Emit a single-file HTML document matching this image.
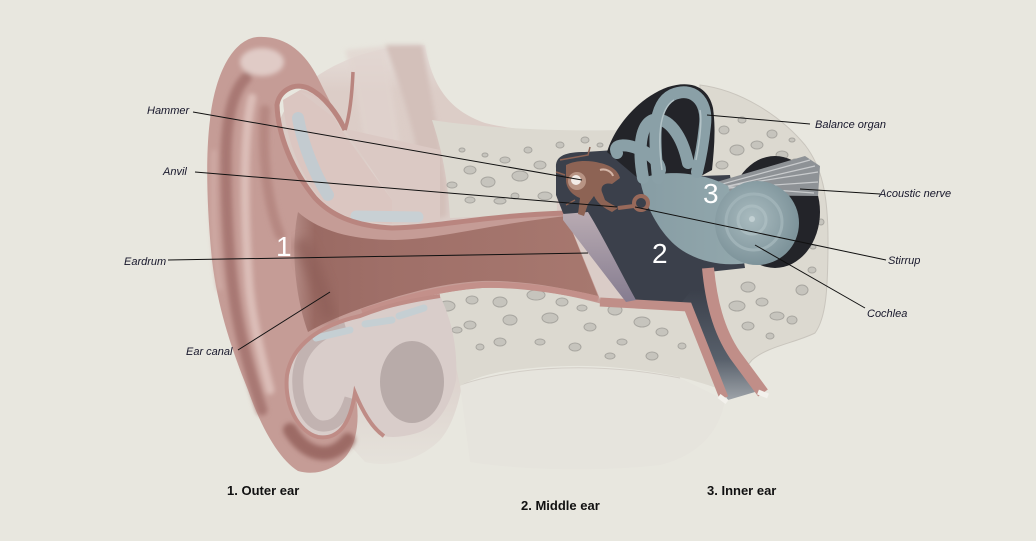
<!DOCTYPE html>
<html><head><meta charset="utf-8"><style>
html,body{margin:0;padding:0;background:#e8e7df;}
svg{display:block;}
text{font-family:"Liberation Sans",Arial,sans-serif;}
.lb{font-size:11px;font-style:italic;fill:#17172b;}
.bt{font-size:13px;font-weight:bold;fill:#111;}
.num{font-size:28px;fill:#fff;}
</style></head><body>
<svg width="1036" height="541" viewBox="0 0 1036 541" xmlns="http://www.w3.org/2000/svg">
<defs>
<filter id="b2" x="-20%" y="-20%" width="140%" height="140%"><feGaussianBlur stdDeviation="2.5"/></filter>
<filter id="b5" x="-30%" y="-30%" width="160%" height="160%"><feGaussianBlur stdDeviation="5"/></filter>
<linearGradient id="hg" gradientUnits="userSpaceOnUse" x1="0" y1="40" x2="0" y2="470">
<stop offset="0" stop-color="#e8e2de"/><stop offset="0.12" stop-color="#dccdc7"/><stop offset="0.7" stop-color="#d9ccc7"/><stop offset="1" stop-color="#e6e3dc"/></linearGradient>
<linearGradient id="cg" gradientUnits="userSpaceOnUse" x1="290" y1="0" x2="600" y2="0">
<stop offset="0" stop-color="#b7908a"/><stop offset="0.08" stop-color="#9a6a63"/><stop offset="0.3" stop-color="#9f6f68"/><stop offset="1" stop-color="#a7786f"/></linearGradient>
<linearGradient id="eg" gradientUnits="userSpaceOnUse" x1="0" y1="212" x2="0" y2="302">
<stop offset="0" stop-color="#b9abb2"/><stop offset="1" stop-color="#857c90"/></linearGradient>
<linearGradient id="tg" gradientUnits="userSpaceOnUse" x1="0" y1="290" x2="0" y2="405">
<stop offset="0" stop-color="#3b404b"/><stop offset="0.6" stop-color="#58606b"/><stop offset="1" stop-color="#a6abb0"/></linearGradient>
<radialGradient id="cog" cx="752" cy="218" r="46" gradientUnits="userSpaceOnUse">
<stop offset="0" stop-color="#a9bbbf"/><stop offset="1" stop-color="#7e949b"/></radialGradient>
<linearGradient id="vg" gradientUnits="userSpaceOnUse" x1="640" y1="0" x2="760" y2="0">
<stop offset="0" stop-color="#879da4"/><stop offset="1" stop-color="#94a9ae"/></linearGradient>
</defs>
<rect width="1036" height="541" fill="#e8e7df"/>

<!-- head tissue -->
<path d="M 280,120 C 300,70 370,44 425,45 C 432,85 448,110 485,123 C 530,134 590,134 625,132 L 625,300 L 470,300 C 468,360 462,415 440,440 C 420,460 390,468 365,462 L 300,390 L 280,300 Z" fill="url(#hg)"/>
<path d="M 345,50 L 385,46 C 395,110 405,170 410,222 L 370,226 C 368,160 360,100 345,50 Z" fill="#e1d4cf" opacity="0.7" filter="url(#b2)"/>
<path d="M 385,45 L 423,45 C 430,90 440,140 447,190 L 447,216 L 428,222 C 424,170 410,110 385,45 Z" fill="#d3c0ba" filter="url(#b2)"/>
<!-- lower faint region -->
<path d="M 460,385 C 520,365 600,362 680,378 L 725,400 C 720,430 700,455 660,465 C 600,472 520,470 470,462 Z" fill="#e6e4dd"/>
<path d="M 460,385 C 520,365 600,362 680,378" fill="none" stroke="#d3cec7" stroke-width="1"/>

<!-- bone B1 -->
<path d="M 432,120 C 470,126 540,132 625,130 C 632,118 645,100 660,92 L 665,150 L 556,165 L 557,213 L 450,218 C 448,180 442,150 432,120 Z" fill="#dcd9d0"/>
<!-- bone B2 -->
<path d="M 433,294 C 480,283 540,286 600,300 L 690,306 L 722,390 C 690,378 660,372 620,368 C 580,364 540,366 500,372 C 480,376 466,382 460,386 C 455,360 447,325 433,294 Z" fill="#dcd9d0"/>
<!-- bone B3 -->
<path d="M 700,85 C 740,90 780,115 805,145 C 822,167 828,195 828,240 C 828,290 826,318 815,333 C 795,343 768,346 752,360 L 742,372 C 730,355 720,320 712,280 L 700,150 Z" fill="#dcd9d0" stroke="#c9c5bd" stroke-width="1"/>

<!-- bone holes -->
<g fill="#c6c4bd" stroke="#a8a6a0" stroke-width="1">
<ellipse cx="452" cy="185" rx="5" ry="3"/><ellipse cx="470" cy="170" rx="6" ry="4"/><ellipse cx="488" cy="182" rx="7" ry="5"/><ellipse cx="505" cy="160" rx="5" ry="3"/><ellipse cx="520" cy="176" rx="8" ry="5"/><ellipse cx="540" cy="165" rx="6" ry="4"/><ellipse cx="545" cy="196" rx="7" ry="4"/><ellipse cx="500" cy="201" rx="6" ry="3"/><ellipse cx="470" cy="200" rx="5" ry="3"/><ellipse cx="528" cy="150" rx="4" ry="3"/><ellipse cx="462" cy="150" rx="3" ry="2"/><ellipse cx="515" cy="196" rx="4" ry="3"/><ellipse cx="560" cy="145" rx="4" ry="3"/><ellipse cx="485" cy="155" rx="3" ry="2"/><ellipse cx="585" cy="140" rx="4" ry="3"/><ellipse cx="600" cy="145" rx="3" ry="2"/>
<ellipse cx="447" cy="306" rx="8" ry="5"/><ellipse cx="472" cy="300" rx="6" ry="4"/><ellipse cx="500" cy="302" rx="7" ry="5"/><ellipse cx="536" cy="295" rx="9" ry="5"/><ellipse cx="562" cy="302" rx="6" ry="4"/><ellipse cx="582" cy="308" rx="5" ry="3"/><ellipse cx="615" cy="310" rx="7" ry="5"/><ellipse cx="642" cy="322" rx="8" ry="5"/><ellipse cx="470" cy="325" rx="6" ry="4"/><ellipse cx="510" cy="320" rx="7" ry="5"/><ellipse cx="550" cy="318" rx="8" ry="5"/><ellipse cx="590" cy="327" rx="6" ry="4"/><ellipse cx="622" cy="342" rx="5" ry="3"/><ellipse cx="662" cy="332" rx="6" ry="4"/><ellipse cx="500" cy="342" rx="6" ry="4"/><ellipse cx="540" cy="342" rx="5" ry="3"/><ellipse cx="575" cy="347" rx="6" ry="4"/><ellipse cx="610" cy="356" rx="5" ry="3"/><ellipse cx="652" cy="356" rx="6" ry="4"/><ellipse cx="480" cy="347" rx="4" ry="3"/><ellipse cx="457" cy="330" rx="5" ry="3"/><ellipse cx="682" cy="346" rx="4" ry="3"/>
<ellipse cx="724" cy="130" rx="5" ry="4"/><ellipse cx="742" cy="120" rx="4" ry="3"/><ellipse cx="737" cy="150" rx="7" ry="5"/><ellipse cx="757" cy="145" rx="6" ry="4"/><ellipse cx="772" cy="134" rx="5" ry="4"/><ellipse cx="782" cy="155" rx="6" ry="4"/><ellipse cx="795" cy="162" rx="4" ry="3"/><ellipse cx="722" cy="165" rx="6" ry="4"/><ellipse cx="748" cy="287" rx="7" ry="5"/><ellipse cx="737" cy="306" rx="8" ry="5"/><ellipse cx="762" cy="302" rx="6" ry="4"/><ellipse cx="777" cy="316" rx="7" ry="4"/><ellipse cx="748" cy="326" rx="6" ry="4"/><ellipse cx="802" cy="290" rx="6" ry="5"/><ellipse cx="792" cy="320" rx="5" ry="4"/><ellipse cx="770" cy="336" rx="4" ry="3"/><ellipse cx="812" cy="270" rx="4" ry="3"/><ellipse cx="821" cy="222" rx="3" ry="3"/><ellipse cx="813" cy="247" rx="3" ry="2"/><ellipse cx="792" cy="140" rx="3" ry="2"/>
</g>

<!-- lower concha region R -->
<path d="M 360,316 C 400,303 425,298 440,296 C 452,320 458,350 456,380 C 452,400 440,425 420,432 C 405,437 392,438 384,436 C 372,425 362,410 355,393 C 350,425 338,440 318,437 C 298,432 284,405 287,375 C 292,345 320,325 360,316 Z" fill="#d9cdca"/>
<path d="M 345,325 C 318,333 300,350 298,375 C 296,400 307,425 322,426 C 336,427 345,415 350,398" fill="none" stroke="#c2b3b1" stroke-width="11"/>
<ellipse cx="412" cy="382" rx="32" ry="41" fill="#b8aba9"/>

<!-- pinna -->
<path d="M 257,37 C 285,35 305,52 318,78 C 328,98 338,118 345,130 C 338,115 325,96 308,88 C 292,82 279,92 277,105 C 278,135 292,170 315,198 C 330,214 352,226 392,228 C 440,227 480,216 565,213 L 602,304 C 565,294 520,286 482,288 C 440,291 400,302 360,316 C 320,325 292,345 287,375 C 284,405 298,432 318,437 C 338,440 350,425 355,393 C 360,415 358,440 347,455 C 335,470 315,476 298,471 C 280,460 262,430 248,390 C 232,350 218,310 212,260 C 206,200 206,150 210,120 C 215,75 232,40 257,37 Z" fill="#c59c96"/>
<!-- pinna shading -->
<g filter="url(#b2)">
<ellipse cx="262" cy="62" rx="22" ry="14" fill="#e0cbc6"/>
<path d="M 246,78 C 232,92 226,120 226,160 C 226,215 229,265 236,310 C 242,345 252,380 262,410" fill="none" stroke="#a87873" stroke-width="11" stroke-linecap="round"/>
<path d="M 252,98 C 244,130 243,200 249,285 C 252,320 262,360 270,390" fill="none" stroke="#dbbdb7" stroke-width="9" stroke-linecap="round"/>
<path d="M 265,110 C 262,150 266,200 280,235" fill="none" stroke="#b68882" stroke-width="10" stroke-linecap="round"/>
<path d="M 290,430 C 305,455 330,462 348,440" fill="none" stroke="#9c6b65" stroke-width="14" stroke-linecap="round"/>
<path d="M 214,150 C 212,200 214,250 220,290" fill="none" stroke="#cfaaa4" stroke-width="5"/>
</g>
<!-- concha light inside arch -->
<path d="M 283,100 C 285,135 298,170 318,196 C 332,212 352,222 392,224 L 392,200 L 340,128 C 330,108 318,92 300,90 Z" fill="#dbc6c1"/>
<path d="M 300,92 C 322,96 335,115 345,130 L 392,200 L 392,224 L 440,222 L 440,150 L 350,130 Z" fill="#dbc9c4"/>

<!-- canal -->
<path d="M 298,212 C 318,230 350,240 395,240 C 440,239 480,226 566,216 L 598,296 C 560,287 520,280 482,281 C 440,283 400,295 368,306 C 345,314 325,322 308,332 C 296,300 290,250 298,212 Z" fill="url(#cg)"/>
<path d="M 300,240 C 315,270 325,300 330,320" fill="none" stroke="#8e5e58" stroke-width="16" filter="url(#b5)" opacity="0.7"/>

<!-- cartilage strips -->
<g stroke-linecap="round" fill="none">
<path d="M 298,118 C 303,145 315,175 328,195" stroke="#c3cbd0" stroke-width="12"/>
<path d="M 356,216 L 418,217" stroke="#c8d0d4" stroke-width="11"/>
<path d="M 316,338 L 350,330" stroke="#c5cfd3" stroke-width="7"/>
<path d="M 365,324 L 392,320" stroke="#c5cfd3" stroke-width="7"/>
<path d="M 399,316 L 424,308" stroke="#c5cfd3" stroke-width="7"/>
</g>
<!-- C lines -->
<g fill="none" stroke="#b9857f">
<path d="M 345,130 C 338,115 325,96 308,88 C 292,82 279,92 277,105 C 278,135 292,170 315,198 C 330,214 352,226 392,228 C 440,227 480,216 565,213" stroke-width="5"/>
<path d="M 345,130 C 350,115 352,95 353,72" stroke-width="3.5"/>
<path d="M 598,299 C 565,291 520,284 482,285 C 440,288 400,299 362,312" stroke="#c3908a" stroke-width="6"/>
<path d="M 440,296 C 400,302 380,308 360,316 C 320,325 292,345 287,375 C 284,405 298,432 318,437 C 338,440 350,425 355,393 C 362,410 372,428 384,436" stroke="#bf8c86" stroke-width="4"/>
</g>

<!-- middle ear cavity -->
<path d="M 556,168 C 555,156 565,152 585,152 L 615,150 L 640,178 L 730,175 L 745,268 L 708,272 C 698,285 692,295 690,305 L 630,300 L 563,213 L 556,195 Z" fill="#3b404b"/>
<!-- labyrinth black -->
<path d="M 607,152 C 615,125 640,97 668,87 C 690,80 708,86 713,108 C 716,130 714,150 712,170 L 690,182 L 640,180 Z" fill="#232429"/>
<ellipse cx="775" cy="212" rx="45" ry="56" fill="#232429"/>
<!-- eustachian tube -->
<path d="M 682,302 L 706,272 L 716,330 L 755,392 L 728,400 L 714,378 Z" fill="url(#tg)"/>
<path d="M 600,302 L 688,307 L 724,398" fill="none" stroke="#c08e88" stroke-width="9"/>
<path d="M 708,268 C 711,300 718,330 735,355 L 763,393" fill="none" stroke="#c08e88" stroke-width="12"/>
<path d="M 719,396 L 727,402 M 758,392 L 768,396" stroke="#f3f1ec" stroke-width="5"/>

<!-- eardrum -->
<path d="M 563,214 L 588,212 C 605,240 622,275 636,300 L 626,302 C 605,275 582,245 563,220 Z" fill="url(#eg)"/>

<!-- acoustic nerve -->
<path d="M 672,195 L 805,156 L 820,166 L 818,196 L 700,195 Z" fill="#8e9296"/>
<g stroke="#c9cbcd" stroke-width="1.2" fill="none">
<path d="M 675,197 L 810,160"/><path d="M 690,192 L 818,172"/><path d="M 700,190 L 818,182"/><path d="M 720,186 L 814,193"/><path d="M 685,196 L 815,166"/>
</g>

<!-- vestibule & cochlea -->
<path d="M 640,180 C 655,170 700,170 728,186 L 752,262 C 725,268 695,262 675,245 C 658,230 645,205 640,180 Z" fill="url(#vg)"/>
<circle cx="757" cy="223" r="42" fill="url(#cog)"/>
<circle cx="754" cy="222" r="28" fill="none" stroke="#9fb2b7" stroke-width="3"/>
<circle cx="752" cy="220" r="14" fill="none" stroke="#a9bbbf" stroke-width="3"/>
<circle cx="752" cy="219" r="3" fill="#c2d0d3"/>
<!-- semicircular canals -->
<g fill="none" stroke="#8aa0a7" stroke-width="12" stroke-linecap="round">
<path d="M 617,153 C 612,143 628,143 645,152 C 655,158 660,165 660,170"/>
<path d="M 643,178 C 638,150 640,125 653,120 C 668,116 682,135 688,163"/>
<path d="M 658,178 C 654,140 652,105 672,95 C 692,86 708,100 705,125 C 703,145 700,160 697,172"/>
</g>
<g fill="none" stroke="#b3c3c7" stroke-width="1.5">
<path d="M 662,170 C 658,140 658,110 674,100"/>
<path d="M 700,110 C 702,120 700,140 696,160"/>
</g>

<!-- ossicles -->
<g fill="none" stroke="#8d6354" stroke-width="1.5">
<path d="M 560,160 L 588,155 L 590,147"/><path d="M 565,175 L 556,172"/><path d="M 575,200 L 566,205"/>
</g>
<path d="M 566,165 C 575,160 590,160 600,163 C 610,165 618,170 620,178 L 612,184 C 605,182 600,186 602,192 L 605,200 C 610,204 616,206 618,208 L 612,212 C 604,208 598,204 594,196 L 588,204 L 584,216 L 578,214 L 580,198 C 572,195 566,188 566,180 Z" fill="#8d6354"/>
<circle cx="577" cy="181" r="9" fill="#b89484"/>
<circle cx="576" cy="180" r="5" fill="#f2ebe6"/>
<path d="M 600,170 C 606,168 612,172 613,176" fill="none" stroke="#d4b6a8" stroke-width="2"/>
<circle cx="641" cy="203" r="7" fill="none" stroke="#98695a" stroke-width="4"/>
<path d="M 618,208 L 634,206" stroke="#98695a" stroke-width="4"/>

<!-- numbers -->
<text class="num" x="276" y="256">1</text>
<text class="num" x="652" y="263">2</text>
<text class="num" x="703" y="203">3</text>

<!-- leader lines -->
<g stroke="#111" stroke-width="1" fill="none">
<line x1="193" y1="112" x2="582" y2="180"/>
<line x1="195" y1="172" x2="617" y2="207"/>
<line x1="168" y1="260" x2="588" y2="253"/>
<line x1="238" y1="350" x2="330" y2="292"/>
<line x1="707" y1="115" x2="810" y2="124"/>
<line x1="800" y1="189" x2="880" y2="194"/>
<line x1="635" y1="207" x2="886" y2="260"/>
<line x1="755" y1="245" x2="865" y2="308"/>
</g>

<!-- labels -->
<text class="lb" x="147" y="114">Hammer</text>
<text class="lb" x="163" y="175">Anvil</text>
<text class="lb" x="124" y="265">Eardrum</text>
<text class="lb" x="186" y="355">Ear canal</text>
<text class="lb" x="815" y="128">Balance organ</text>
<text class="lb" x="879" y="197">Acoustic nerve</text>
<text class="lb" x="888" y="264">Stirrup</text>
<text class="lb" x="867" y="317">Cochlea</text>

<text class="bt" x="227" y="495">1. Outer ear</text>
<text class="bt" x="521" y="510">2. Middle ear</text>
<text class="bt" x="707" y="495">3. Inner ear</text>
</svg>
</body></html>
